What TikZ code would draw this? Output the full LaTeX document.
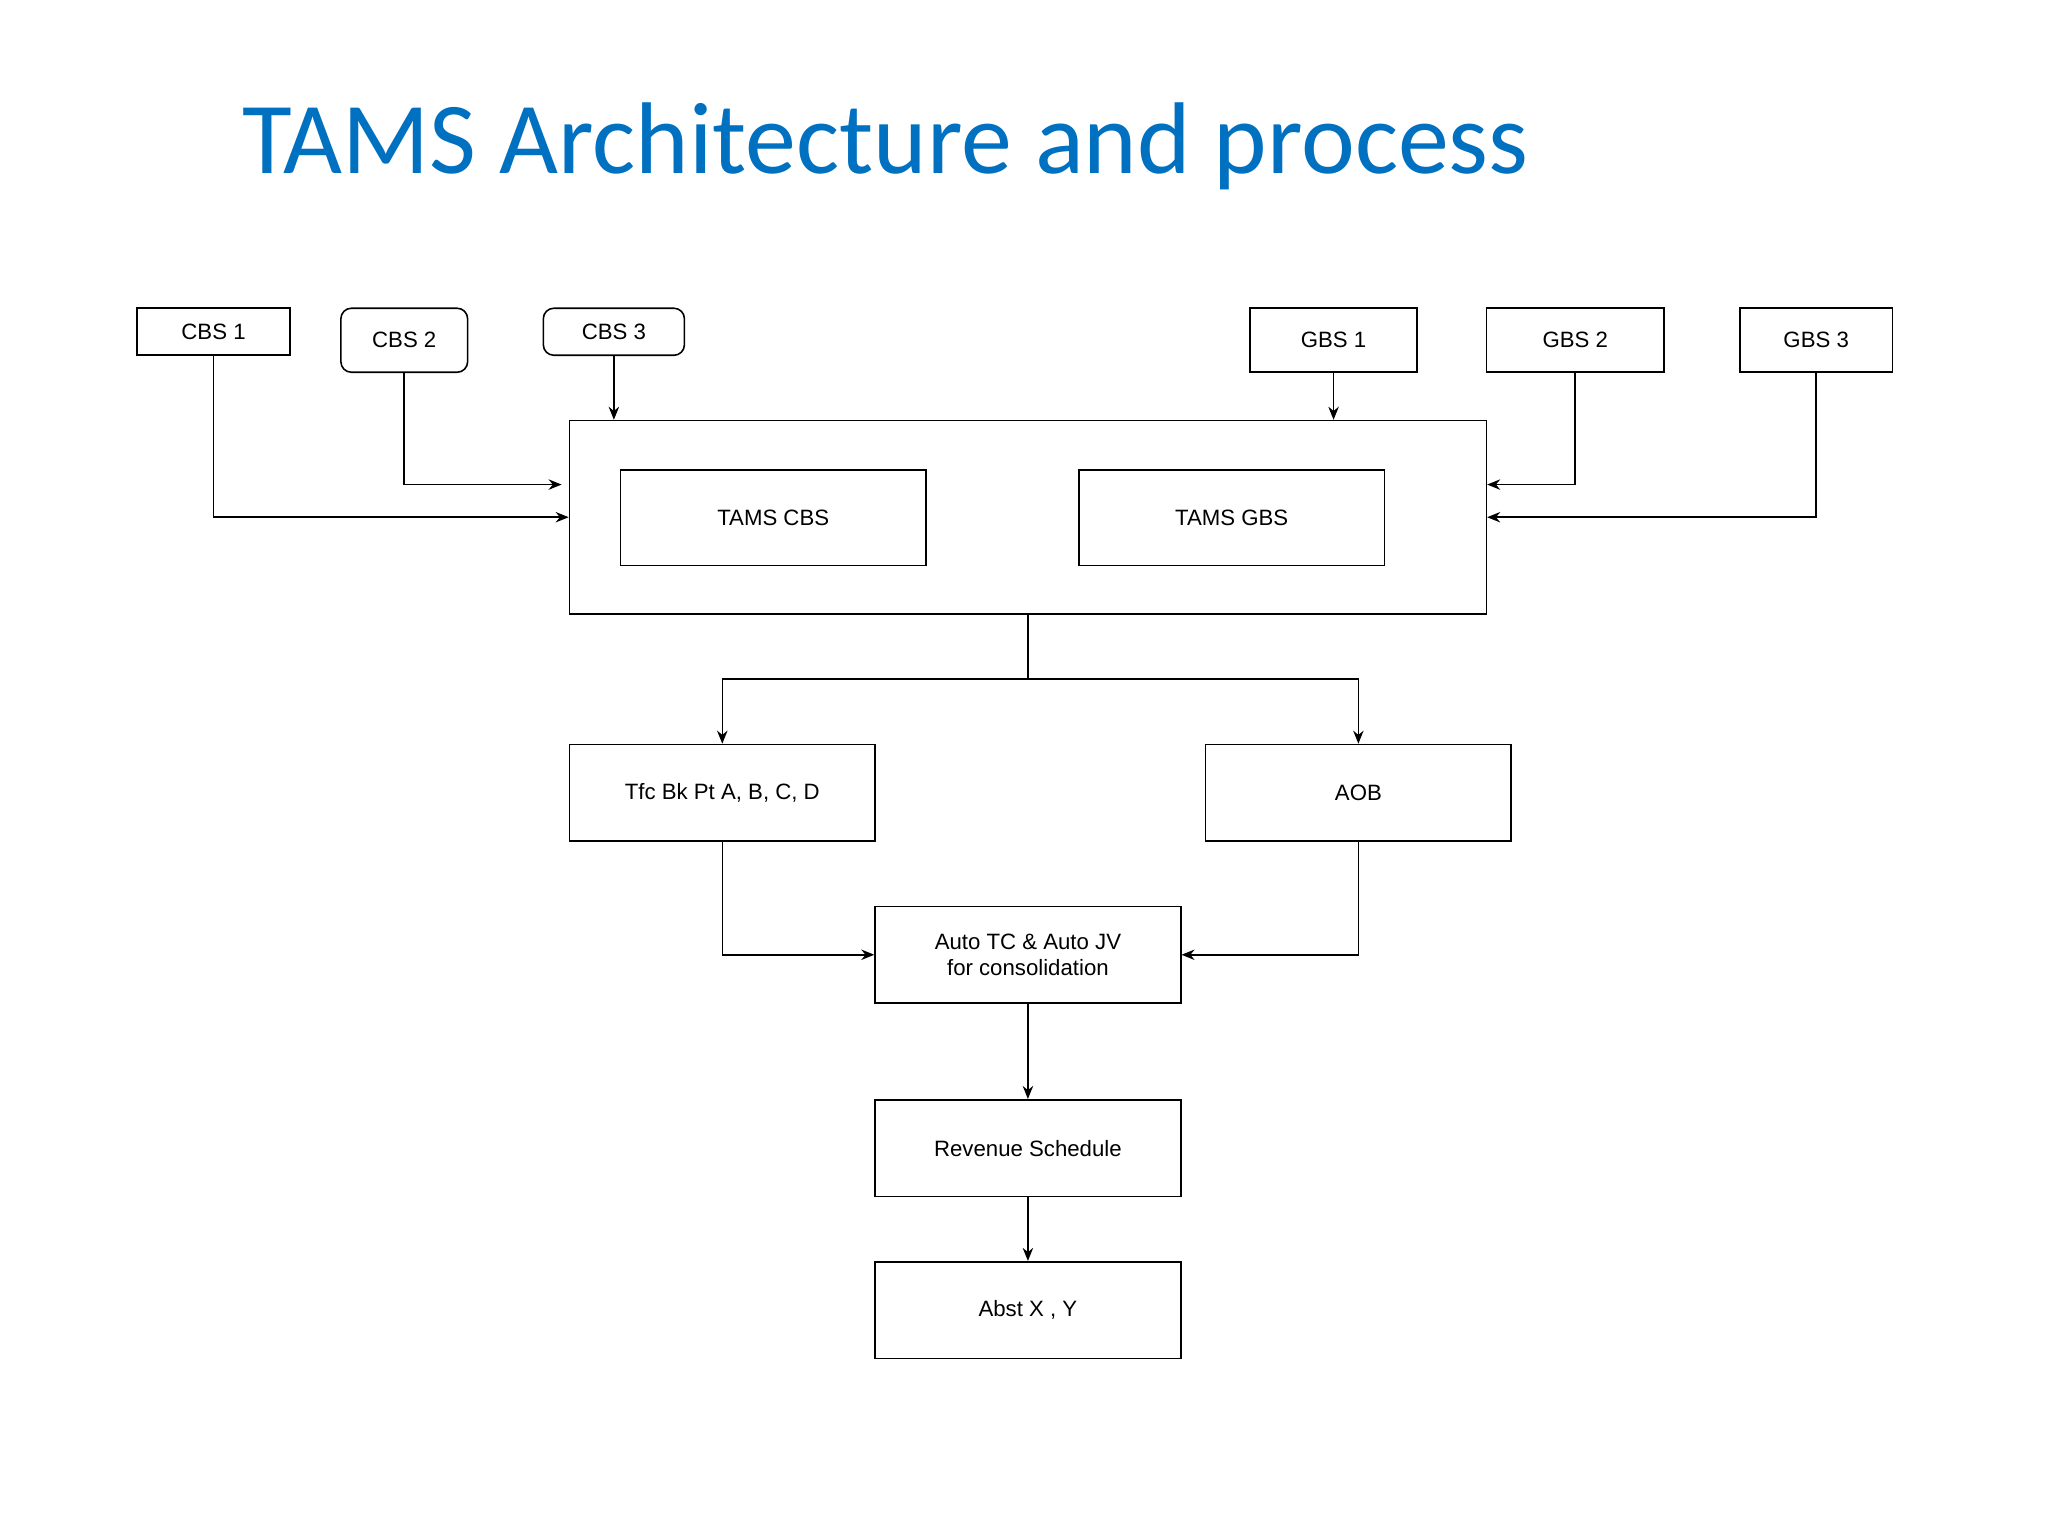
\documentclass[tikz,border=0pt]{standalone}
\usepackage{fontspec}
\setmainfont{Liberation Sans}
\newfontfamily\titlefont{Carlito}
\usetikzlibrary{arrows.meta}
\definecolor{titleblue}{RGB}{0,112,192}
\begin{document}
\begin{tikzpicture}[x=0.5pt,y=-0.5pt,
  box/.style={draw,line width=0.6pt,inner sep=0pt,font=\fontsize{8.5}{10}\selectfont,align=center},
  arr/.style={draw,line width=0.6pt,-{Stealth[length=5pt,width=4pt]}},
  ln/.style={draw,line width=0.6pt}]
\useasboundingbox (0,0) rectangle (1568,1176);
\fill[white] (0,0) rectangle (1568,1176);
\node[anchor=base west,text=titleblue,font=\titlefont\fontsize{39}{46}\selectfont,inner sep=0pt] (title) at (185,133) {TAMS Architecture and process};
\node[box,minimum width=58.5pt,minimum height=18pt] (cbs1) at (163.5,254) {CBS 1};
\node[box,rounded corners=4pt,minimum width=48.5pt,minimum height=24.5pt] (cbs2) at (309.5,260.5) {CBS 2};
\node[box,rounded corners=4pt,minimum width=54pt,minimum height=18pt] (cbs3) at (470,254) {CBS 3};
\node[box,minimum width=64pt,minimum height=24.5pt] (gbs1) at (1021,260.5) {GBS 1};
\node[box,minimum width=68pt,minimum height=24.5pt] (gbs2) at (1206,260.5) {GBS 2};
\node[box,minimum width=58.5pt,minimum height=24.5pt] (gbs3) at (1390.5,260.5) {GBS 3};
\node[box,minimum width=351pt,minimum height=74pt] (big) at (787,396) {};
\node[box,minimum width=117pt,minimum height=36.5pt] (tcbs) at (592,396.5) {TAMS CBS};
\node[box,minimum width=117pt,minimum height=36.5pt] (tgbs) at (943,396.5) {TAMS GBS};
\node[box,minimum width=117pt,minimum height=37pt] (tfc) at (553,607) {Tfc Bk Pt A, B, C, D};
\node[box,minimum width=117pt,minimum height=37pt] (aob) at (1040,607) {AOB};
\node[box,minimum width=117pt,minimum height=37pt] (auto) at (787,731) {Auto TC \& Auto JV\\for consolidation};
\node[box,minimum width=117pt,minimum height=37pt] (rev) at (787,879) {Revenue Schedule};
\node[box,minimum width=117pt,minimum height=37pt] (abst) at (787,1003) {Abst X , Y};
\coordinate (c2e) at (430,371);
\path[arr] (cbs1.south) |- (big.west |- 0,396);
\path[arr] (cbs2.south) |- (c2e);
\path[arr] (cbs3.south) -- (cbs3.south |- big.north);
\path[arr] (gbs1.south) -- (gbs1.south |- big.north);
\path[arr] (gbs2.south) |- (big.east |- 0,371);
\path[arr] (gbs3.south) |- (big.east |- 0,396);
\coordinate (split) at (787,520);
\path[ln] (big.south) -- (split);
\path[arr] (split) -| (tfc.north);
\path[arr] (split) -| (aob.north);
\path[arr] (tfc.south) |- (auto.west);
\path[arr] (aob.south) |- (auto.east);
\path[arr] (auto) -- (rev);
\path[arr] (rev) -- (abst);
\end{tikzpicture}
\end{document}
